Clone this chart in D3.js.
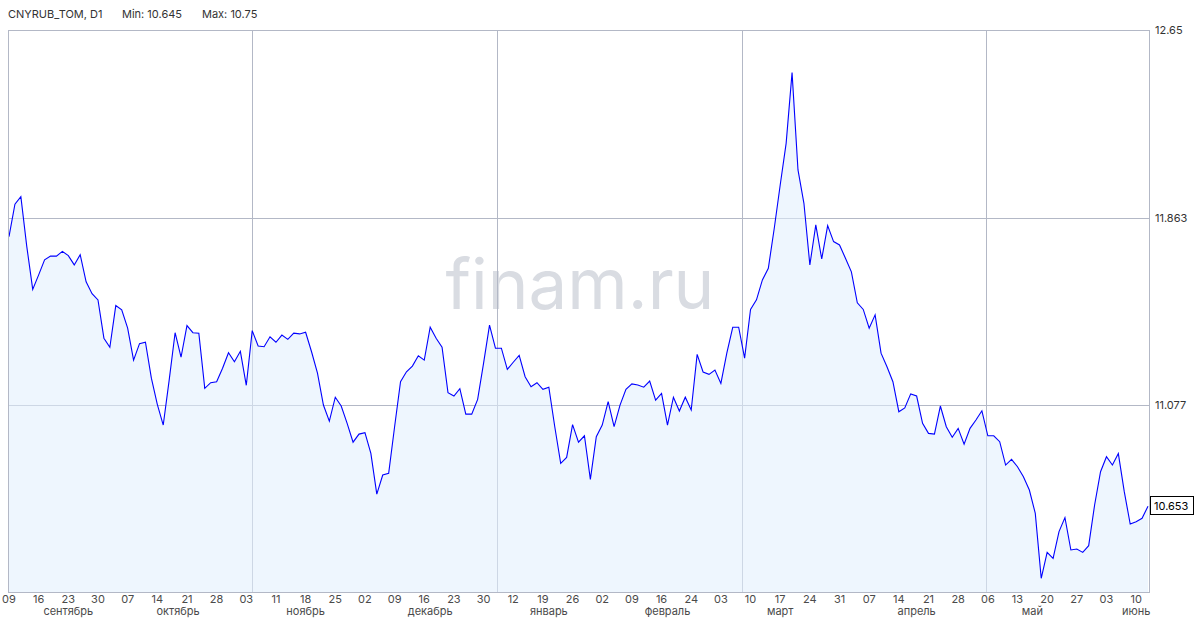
<!DOCTYPE html>
<html>
<head>
<meta charset="utf-8">
<script src="https://cdn.jsdelivr.net/npm/d3@7"></script>
<style>
  html, body { margin: 0; padding: 0; background: #fff; }
  svg { display: block; font-family: Inter, Roboto, 'DejaVu Sans', sans-serif; }
</style>
</head>
<body>
<div id="chart"></div>
<script>
// CNYRUB_TOM daily closes, one per trading day
const closes = [
  11.786, 11.922, 11.954, 11.744, 11.564, 11.625, 11.688, 11.704, 11.704, 11.724,
  11.706, 11.667, 11.710, 11.596, 11.546, 11.520, 11.359, 11.321, 11.496, 11.478,
  11.401, 11.267, 11.336, 11.342, 11.191, 11.081, 10.994, 11.183, 11.382, 11.279,
  11.412, 11.382, 11.380, 11.148, 11.172, 11.176, 11.233, 11.298, 11.260, 11.304,
  11.161, 11.391, 11.326, 11.323, 11.365, 11.342, 11.372, 11.354, 11.380, 11.377,
  11.384, 11.302, 11.212, 11.078, 11.010, 11.111, 11.074, 11.001, 10.922, 10.956,
  10.962, 10.875, 10.704, 10.784, 10.791, 10.987, 11.176, 11.218, 11.242, 11.285,
  11.267, 11.405, 11.359, 11.321, 11.130, 11.116, 11.147, 11.040, 11.040, 11.102,
  11.254, 11.414, 11.317, 11.317, 11.228, 11.258, 11.287, 11.197, 11.155, 11.172,
  11.144, 11.153, 10.987, 10.833, 10.858, 10.996, 10.922, 10.949, 10.766, 10.945,
  10.994, 11.092, 10.987, 11.078, 11.144, 11.167, 11.162, 11.153, 11.179, 11.099,
  11.127, 10.994, 11.111, 11.053, 11.111, 11.057, 11.291, 11.217, 11.207, 11.225,
  11.169, 11.296, 11.405, 11.405, 11.275, 11.480, 11.520, 11.604, 11.653, 11.821,
  12.003, 12.178, 12.475, 12.066, 11.926, 11.667, 11.835, 11.692, 11.832, 11.765,
  11.751, 11.695, 11.638, 11.508, 11.480, 11.401, 11.457, 11.296, 11.239, 11.176,
  11.050, 11.066, 11.125, 11.116, 11.001, 10.959, 10.956, 11.074, 10.987, 10.943,
  10.980, 10.914, 10.980, 11.015, 11.054, 10.949, 10.949, 10.924, 10.826, 10.850,
  10.819, 10.777, 10.721, 10.623, 10.350, 10.459, 10.434, 10.546, 10.605, 10.469,
  10.473, 10.459, 10.487, 10.658, 10.798, 10.861, 10.826, 10.874, 10.714, 10.578,
  10.588, 10.602, 10.653
]

// day labels, one every 5 bars
const dayLabels = ['09', '16', '23', '30', '07', '14', '21', '28', '03', '11', '18', '25',
  '02', '09', '16', '23', '30', '12', '19', '26', '02', '09', '16', '24', '03', '10', '17',
  '24', '31', '07', '14', '21', '28', '06', '13', '20', '27', '03', '10']
const dayStep = 5

const months = ['сентябрь', 'октябрь', 'ноябрь', 'декабрь', 'январь', 'февраль', 'март', 'апрель', 'май', 'июнь']
const monthPos = [10, 28.5, 50, 71, 91, 111, 130, 153, 172.5, 190]

const priceTicks = [11.077, 11.863]
const priceTop = 12.65
const priceBottom = 10.2924
const vGrid = [41, 82.25, 123.5, 164.75]

const W = 1200, H = 630
const pLeft = 8.5, pRight = 1149.5, pTop = 30.5, pBottom = 592.5

const svg = d3.select('#chart').append('svg').attr('width', W).attr('height', H)

const x = d3.scaleLinear().domain([0, closes.length - 1]).range([9, 1148])
const y = d3.scaleLinear().domain([priceBottom, priceTop]).range([592, 31])

// watermark
svg.append('text')
  .attr('x', 580).attr('y', 309)
  .attr('text-anchor', 'middle')
  .style('font-size', '69px')
  .style('fill', '#d9dce2')
  .text('finam.ru')

// grid
const grid = svg.append('g').attr('stroke', '#b3b8c6').attr('stroke-width', 1)
grid.selectAll('.h').data(priceTicks).join('line')
  .attr('x1', pLeft).attr('x2', pRight)
  .attr('y1', d => Math.round(y(d)) + 0.5).attr('y2', d => Math.round(y(d)) + 0.5)
grid.selectAll('.v').data(vGrid).join('line')
  .attr('x1', d => Math.round(x(d)) + 0.5).attr('x2', d => Math.round(x(d)) + 0.5)
  .attr('y1', pTop).attr('y2', pBottom)

// area + line
const area = d3.area().x((d, i) => x(i)).y0(pBottom).y1(d => y(d))
svg.append('path').datum(closes)
  .attr('d', area)
  .attr('fill', 'rgba(225,239,254,0.56)')

const line = d3.line().x((d, i) => x(i)).y(d => y(d))
svg.append('path').datum(closes)
  .attr('d', line)
  .attr('fill', 'none')
  .attr('stroke', '#0000ff')
  .attr('stroke-width', 1.1)

// frame
svg.append('rect')
  .attr('x', pLeft).attr('y', pTop)
  .attr('width', pRight - pLeft).attr('height', pBottom - pTop)
  .attr('fill', 'none').attr('stroke', '#b3b8c6')

// right axis
const yAxis = svg.append('g').style('font-size', '11px').style('fill', '#333')
yAxis.append('text').attr('x', 1155).attr('y', pTop).attr('dy', '0.35em').text(priceTop)
yAxis.selectAll('.t').data(priceTicks).join('text')
  .attr('x', 1155).attr('y', d => y(d)).attr('dy', '0.35em')
  .text(d => d3.format('.3f')(d))

// last price box
const last = closes[closes.length - 1]
svg.append('rect')
  .attr('x', 1150.5).attr('y', Math.round(y(last)) - 9.5)
  .attr('width', 43).attr('height', 18)
  .attr('fill', '#fff').attr('stroke', '#000')
svg.append('text')
  .attr('x', 1154).attr('y', y(last)).attr('dy', '0.35em')
  .style('font-size', '11px').style('fill', '#000')
  .text(d3.format('.3f')(last))

// bottom axis
const xAxis = svg.append('g').style('font-size', '11px').style('fill', '#4a4a4a').attr('text-anchor', 'middle')
xAxis.selectAll('.d').data(dayLabels).join('text')
  .attr('x', (d, i) => x(i * dayStep)).attr('y', 603)
  .text(d => d)
xAxis.selectAll('.m').data(months).join('text')
  .attr('x', (d, i) => x(monthPos[i])).attr('y', 615)
  .text(d => d)

// header
const header = svg.append('g').style('font-size', '11px').style('fill', '#333')
header.append('text').attr('x', 8).attr('y', 18).text('CNYRUB_TOM, D1')
header.append('text').attr('x', 122).attr('y', 18).text('Min: 10.645')
header.append('text').attr('x', 202).attr('y', 18).text('Max: 10.75')
</script>
</body>
</html>
